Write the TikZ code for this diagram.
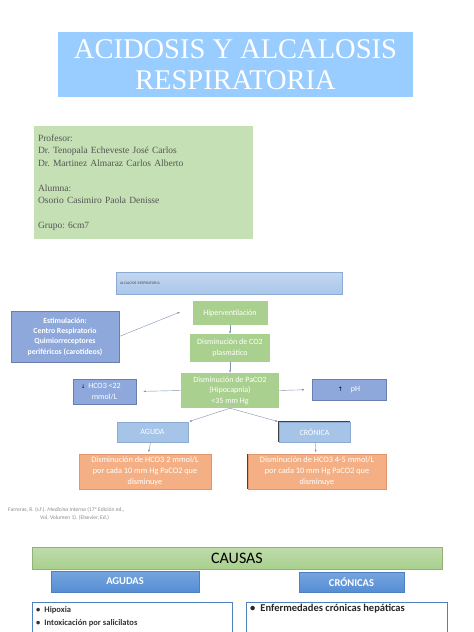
\documentclass[tikz,border=0pt]{standalone}
\usepackage{fontspec}
\setmainfont{Liberation Serif}
\newfontfamily\calibri{Carlito}
\newfontfamily\symfont{DejaVu Sans}
\usetikzlibrary{arrows.meta, positioning}
\definecolor{titleblue}{RGB}{153,204,255}
\definecolor{infogreen}{RGB}{197,224,180}
\definecolor{headblue}{RGB}{170,198,233}
\definecolor{headline}{RGB}{140,170,210}
\definecolor{stepgreen}{RGB}{169,208,142}
\definecolor{stepviolet}{RGB}{142,168,219}
\definecolor{violetline}{RGB}{105,125,175}
\definecolor{paleblue}{RGB}{166,196,232}
\definecolor{stepsalmon}{RGB}{244,176,132}
\definecolor{saltline}{RGB}{225,150,110}
\definecolor{causeblue}{RGB}{85,142,213}
\definecolor{causeline}{RGB}{79,129,189}
\definecolor{arrowgray}{RGB}{130,145,175}
\definecolor{infotext}{RGB}{85,85,85}
\frenchspacing

\begin{document}
\begin{tikzpicture}[
    x=1pt, y=-1pt,
    box/.style={rectangle, inner sep=1pt, align=center, text=white,
        font=\calibri\fontsize{8}{10.5}\selectfont},
    greenbox/.style={box, fill=stepgreen},
    violetbox/.style={box, fill=stepviolet, draw=violetline, line width=0.5pt},
    palebox/.style={box, fill=paleblue, draw=headline, line width=0.4pt},
    salmonbox/.style={box, fill=stepsalmon, draw=saltline, line width=0.4pt,
        font=\calibri\fontsize{8.3}{11}\selectfont},
    causebox/.style={box, top color=causeblue!80!white, bottom color=causeblue,
        draw=causeblue!90!black, line width=0.3pt,
        font=\calibri\bfseries\fontsize{10.5}{12}\selectfont},
    listbox/.style={rectangle, draw=causeline, line width=0.6pt, fill=white},
    arrow/.style={-{Latex[length=2.5pt, width=2pt]}, draw=arrowgray, line width=0.4pt}
]
\clip (0,0) rectangle (474,632);
\fill[white] (0,0) rectangle (474,632);

% title and data
\node[rectangle, fill=titleblue, minimum width=355pt, minimum height=65pt,
    text=white, align=center, font=\fontsize{28.5}{31}\selectfont] (title) at (235.5,64.5)
    {ACIDOSIS Y ALCALOSIS\\RESPIRATORIA};
\node[rectangle, fill=infogreen, minimum width=219pt, minimum height=113pt,
    text width=211pt, align=left, text=infotext,
    font=\fontsize{9.5}{12.4}\selectfont] (info) at (143.5,182.5)
    {Profesor:\\Dr. Tenopala Echeveste José Carlos\\Dr. Martinez Almaraz Carlos Alberto\\[12.4pt]
     Alumna:\\Osorio Casimiro Paola Denisse\\[12.4pt]Grupo: 6cm7};

% flow
\node[rectangle, top color=headblue!70!white, bottom color=headblue, draw=headline,
    line width=0.4pt, minimum width=225pt, minimum height=22pt, text width=219pt,
    align=left, text=black!70, font=\calibri\fontsize{3.8}{4}\selectfont] (alcal) at (229.5,283)
    {ALCALOSIS RESPIRATORIA};
\node[greenbox, minimum width=75pt, minimum height=24pt] (hiper) at (230,313) {Hiperventilación};
\node[violetbox, minimum width=108pt, minimum height=51pt,
    font=\calibri\bfseries\fontsize{7.8}{10.4}\selectfont] (estim) at (65,336.5)
    {Estimulación:\\Centro Respiratorio\\Quimiorreceptores\\periféricos (carotídeos)};
\node[greenbox, minimum width=80pt, minimum height=28pt] (co2) at (230,348)
    {Disminución de CO2\\plasmático};
\node[greenbox, minimum width=98pt, minimum height=35pt] (paco2) at (230,390.5)
    {Disminución de PaCO2\\(Hipocapnia)\\<35 mm Hg};
\node[violetbox, minimum width=63pt, minimum height=25pt] (hco3) at (104.5,391.5)
    {\llap{\textcolor{black}{\symfont\fontsize{5}{5}\selectfont↓}\hspace{3pt}}HCO3 <22\\mmol/L};
\node[violetbox, minimum width=74pt, minimum height=21pt] (ph) at (349,389.5)
    {\textcolor{black}{\symfont\fontsize{6}{6}\selectfont↑}\hspace{8pt}pH};
\node[palebox, minimum width=71pt, minimum height=20pt] (aguda) at (152.5,432) {AGUDA};
\node[palebox, minimum width=71pt, minimum height=20pt] (cronica) at (314.5,432) {CRÓNICA};
\draw[black!75, line width=0.8pt] (cronica.south west) -- (cronica.north west) -- (cronica.north east);
\node[salmonbox, minimum width=132pt, minimum height=35pt] (agudadesc) at (145,471.5)
    {Disminución de HCO3 2 mmol/L\\por cada 10 mm Hg PaCO2 que\\disminuye};
\node[salmonbox, minimum width=138pt, minimum height=35pt] (cronicadesc) at (317,471.5)
    {Disminución de HCO3 4-5 mmol/L\\por cada 10 mm Hg PaCO2 que\\disminuye};
\draw[black!75, line width=0.8pt] (cronicadesc.south west) -- (cronicadesc.north west);

\coordinate (hipertip) at (180,312);
\draw[arrow] (estim.east) -- (hipertip);
\draw[arrow] (hiper) -- (co2);
\draw[arrow] (co2) -- (paco2);
\draw[arrow, shorten >=7pt] (paco2.west) -- (hco3.east);
\draw[arrow, shorten >=7pt] (paco2.east) -- (ph.west);
\draw[arrow, shorten >=1pt] (paco2.south) -- (aguda.north east);
\draw[arrow, shorten >=1pt] (paco2.south) -- (cronica.north west);
\draw[arrow, shorten >=1.5pt] (aguda) -- (agudadesc);
\draw[arrow, shorten >=1.5pt] (cronica) -- (cronicadesc);

% reference
\node[anchor=north west, align=left, text=black!45, inner sep=0pt,
    font=\calibri\fontsize{5.6}{8.5}\selectfont] (refer) at (8,507)
    {Farreras, R. (s.f.). \textit{Medicina Interna} (17ª Edición ed.,\\
     \hspace*{32pt}Vol. Volumen 1). (Elsevier, Ed.)};

% causes
\node[rectangle, top color=stepgreen!75!white, bottom color=stepgreen, draw=stepgreen!85!black,
    line width=0.3pt, minimum width=410pt, minimum height=22pt,
    font=\calibri\fontsize{16}{18}\selectfont] (causas) at (237,558) {CAUSAS};
\node[causebox, minimum width=148pt, minimum height=21pt] (agudas) at (125,581.5) {AGUDAS};
\node[causebox, minimum width=105pt, minimum height=20pt] (cronicas) at (351.5,582) {CRÓNICAS};
\node[listbox, minimum width=200pt, minimum height=50pt] (agudaslist) at (132,627) {};
\node[listbox, minimum width=201pt, minimum height=50pt] (cronicaslist) at (346.5,627) {};
\node[anchor=north west, inner sep=0pt, align=left, text=black!80,
    font=\calibri\bfseries\fontsize{8.5}{13}\selectfont] (agudasitems) at (36,606)
    {•\hspace{4pt}Hipoxia\\•\hspace{4pt}Intoxicación por salicilatos};
\node[anchor=north west, inner sep=0pt, align=left, text=black!85,
    font=\calibri\bfseries\fontsize{10.5}{13}\selectfont] (cronicasitems) at (250,604)
    {•\hspace{5pt}Enfermedades crónicas hepáticas};
\end{tikzpicture}
\end{document}
